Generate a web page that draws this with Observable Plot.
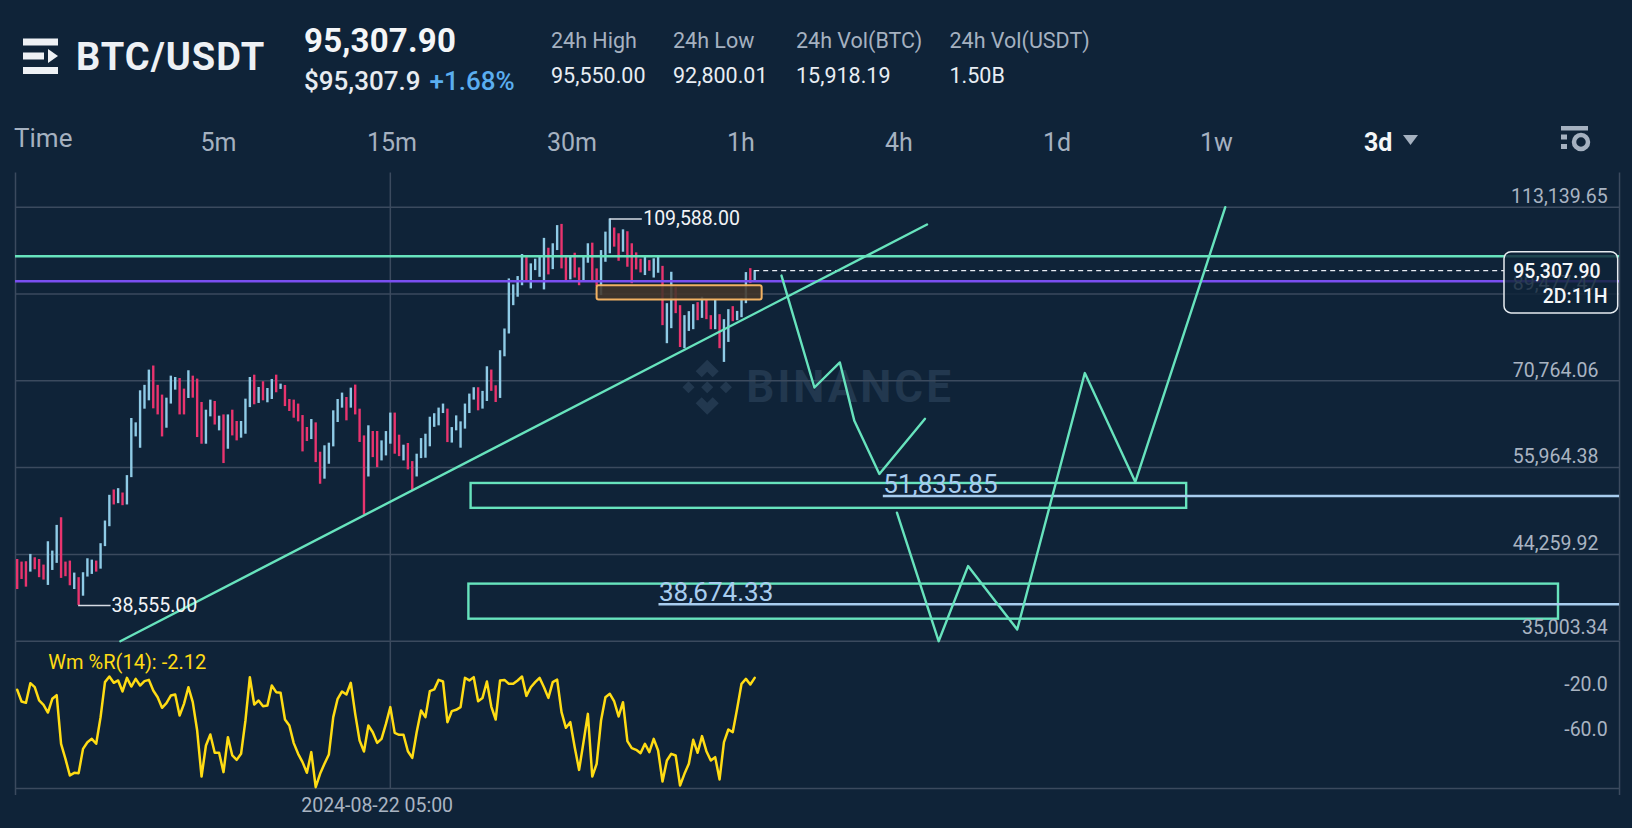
<!DOCTYPE html>
<html>
<head>
<meta charset="utf-8">
<script src="https://cdn.jsdelivr.net/npm/d3@7"></script>
<script src="https://cdn.jsdelivr.net/npm/@observablehq/plot@0.6"></script>
<style>
html,body{margin:0;padding:0;background:#0f2338;}
#page{position:relative;width:1632px;height:828px;overflow:hidden;background:#0f2338;font-family:Roboto,sans-serif;}
#page svg{position:absolute;left:0;background:transparent;overflow:visible;font-family:Roboto,sans-serif;}
.h{position:absolute;white-space:nowrap;line-height:1;transform:translateY(-50%);}
</style>
</head>
<body>
<div id="page"></div>
<script>
// ---------- header text ----------
const pairName = "BTC/USDT";
const lastPrice = "95,307.90";
const lastPriceUsd = "$95,307.9";
const changePct = "+1.68%";
const statLabels = ["24h High", "24h Low", "24h Vol(BTC)", "24h Vol(USDT)"];
const statValues = ["95,550.00", "92,800.01", "15,918.19", "1.50B"];
const tabLabels = ["Time", "5m", "15m", "30m", "1h", "4h", "1d", "1w", "3d"];

// ---------- price series (3-day bars) ----------
const barHigh = [43655,43350,43390,44260,43860,43655,43000,45800,44660,47870,48870,43350,43467,42080,41560,42120,43740,43580,43467,45560,48440,51925,52680,52870,52250,54765,63905,63160,68878,69900,72840,73650,69900,68080,67520,71660,71400,71200,69190,72711,71660,71090,66740,65360,67160,66920,64310,64530,64530,65360,63390,63390,67340,71400,71850,69500,70580,69310,71020,71850,70130,69880,67280,67160,66450,64420,62370,63730,63160,58340,59360,59780,65247,67280,68450,67640,69370,69950,65540,60970,62660,61700,61700,60157,61690,64850,64850,61090,59460,59730,56880,58030,60530,61250,64130,64740,65730,66450,65550,62360,64360,63330,66450,68270,69450,69450,68770,73500,72850,69820,76757,81400,93200,91700,93800,99560,98950,97070,98300,99240,104000,101260,102490,107650,108000,99240,99240,99900,96020,98810,102490,102660,95760,100625,105770,109588,106950,105300,106420,105880,102490,100000,98300,98810,97937,98420,99240,96420,87170,94890,91040,86700,84390,85310,86940,87410,88700,88120,84390,88120,84620,83480,85770,86470,85370,88360,94810,95830,95307.9];
const barLow = [40250,41360,40510,42190,42460,41560,41290,40700,42380,43200,41480,41670,40660,40250,38555,39530,41630,41930,42190,42530,45200,47700,50590,50770,50490,50590,54465,60807,58966,65540,67038,65600,64530,60800,62250,66450,69000,64530,64530,67460,67520,60700,59616,59616,64190,62790,61808,56580,58810,60970,60157,60600,61250,65820,66320,66560,67038,66680,67280,68510,69130,66000,65130,63960,63330,58390,60050,60370,56730,53500,54240,56472,59190,63220,65720,63504,65720,64530,59900,49230,54560,57495,55960,56985,57760,59620,58028,57650,56985,55620,52625,54565,57340,57400,59200,62400,62650,64770,59880,59800,61808,58980,62100,64770,67170,65247,65550,66910,68770,66730,67470,75510,80310,86700,88700,91500,92775,90720,95321,93600,90470,94220,95570,100625,95760,92350,92950,93420,91500,92775,97240,92350,91280,89100,97490,99750,101560,97750,100170,96190,92000,95500,94730,94050,95140,93420,94640,82140,78230,81470,84850,77430,77180,80870,81250,83252,83770,83480,81250,81250,77180,74370,78500,83030,83252,83930,87170,92030,92350];
const barUp = [0,0,0,1,0,0,0,1,1,1,0,0,0,1,0,1,1,1,0,1,1,1,0,1,0,1,1,1,1,1,1,0,0,0,1,1,1,0,0,1,0,0,0,1,1,0,1,0,1,0,0,1,1,1,0,1,0,1,1,0,1,0,0,0,0,0,0,1,0,0,1,1,1,1,1,0,1,0,0,0,1,0,0,1,1,1,0,0,1,0,0,1,1,1,1,1,1,1,0,1,1,1,1,1,1,0,1,1,0,0,1,1,1,1,1,1,0,1,1,1,1,0,1,1,0,0,1,0,0,1,1,0,0,1,1,1,0,0,1,0,0,0,0,1,0,1,1,0,1,1,0,0,1,1,1,0,1,0,0,1,0,1,1,0,1,1,1,0,1];

// Williams %R(14)
const percentR = [-12.7,-23.1,-24.3,-6.8,-10.4,-22.2,-26.1,-32.9,-20.7,-17.5,-60.7,-74.1,-88.9,-86.5,-86.8,-65.2,-59.3,-56.3,-60.7,-37,-5.9,-0.9,-6.5,-4.4,-14.2,-2.1,-9.8,-3,-8.9,-5,-3.9,-13.3,-19.3,-28.7,-24.6,-17.8,-16.9,-35.6,-25.2,-10.4,-23.7,-48.9,-89.8,-62.2,-52.4,-68.7,-68.7,-85.9,-54.8,-71.1,-75,-69.6,-40,-1.5,-25.8,-22.2,-27.3,-26.7,-8.9,-14.8,-15.4,-39.1,-44.4,-60.1,-69.6,-77,-86.5,-68.1,-99.3,-87.4,-78.5,-70.2,-37,-20.7,-14.2,-16.9,-6.5,-34.1,-57.8,-67.6,-44.4,-50.4,-59.9,-56.3,-43,-28.1,-51,-52.7,-52.7,-67.3,-73.2,-50.4,-31.1,-37,-13.9,-12.4,-3.9,-5.3,-41.5,-31.7,-30.5,-28.1,-2.1,-4.4,-1.5,-22.8,-19.9,-5.3,-27.6,-39.1,-4.4,-3.9,-7.4,-7.4,-4.4,-0.9,-18.1,-10.4,-5.9,-2.1,-10.4,-19.9,-5.9,-3.6,-32.6,-46.5,-41.5,-63.7,-83.9,-59.3,-34.1,-89.8,-78.5,-40,-19.3,-16.3,-23.1,-36.4,-23.7,-58.4,-64.6,-66.1,-69,-60.7,-68.1,-56.3,-66.7,-94.2,-75.6,-69.6,-71.1,-97.8,-87.4,-78.5,-57.2,-68.7,-53.9,-67.3,-75.6,-72.6,-92.4,-59.3,-48,-50.4,-29.6,-7.4,-3,-8,-2.12];

// ---------- axis ticks ----------
const priceTicks = [113139.65, 89477.47, 70764.06, 55964.38, 44259.92, 35003.34];
const priceTickLabels = ["113,139.65", "89,477.47", "70,764.06", "55,964.38", "44,259.92", "35,003.34"];
const wprTicks = [-20, -60];
const wprTickLabels = ["-20.0", "-60.0"];
const timeLabel = "2024-08-22 05:00";
const wprTitle = "Wm %R(14): -2.12";
const lastPriceLabel = "95,307.90";
const countdownLabel = "2D:11H";
const highLabel = "109,588.00";
const lowLabel = "38,555.00";
const watermarkLabel = "BINANCE";
const highBar = 135, lowBar = 14, lastBar = 168, gridBar = 85;
const highValue = 109588, lowValue = 38555, lastValue = 95307.9;

// ---------- drawn annotations (bar number, price) ----------
const trendBars = [23.5, 207.25];
const trendPrices = [35003, 107960];
const pathABars = [174.1, 181.6, 187.4, 190.7, 196.4, 206.8];
const pathAPrices = [94043, 69494, 74363, 63504, 55014, 63847];
const pathBBars = [200.4, 209.9, 216.6, 227.8, 243.2, 254.7, 275.2];
const pathBPrices = [49540, 35003, 42885, 36130, 72260, 53833, 113139];
const resistancePrice = 99075;
const purplePrice = 92600;
const zoneOrange = {bar1: 132.1, bar2: 169.7, low: 88040, high: 91520};
const zoneGreen = [
  {bar1: 103.4, bar2: 266.4, low: 50130, high: 53616},
  {bar1: 102.9, bar2: 351.1, low: 37150, high: 40843}
];
const levelValues = [51835.85, 38674.33];
const levelLabels = ["51,835.85", "38,674.33"];
const levelStartBars = [197.3, 146.2];
const firstChartBar = -0.38, lastChartBar = 365;

// ---------- layout ----------
const W = 1632;
const xOpts = {domain: [-16.67 / 4.39, (W - 16.67) / 4.39], range: [0, W]};
const page = document.getElementById("page");
const grid = "#3b4a5e", tickColor = "#a9b4c2", bg = "#0f2338";
const green = "#67e3bd", blue = "#8fcbe6", pink = "#e9346e", level = "#a8cdef", wmColor = "#22384f";
const idx = d3.range(barHigh.length);
const lineW = 2.4, labelSize = 19.5;

function watermark(index, {x, y}) {
  const g = d3.create("svg:g").attr("fill", wmColor);
  const cx = x(157.3), cy = y(69445);
  const k = 27.5;
  const p = "M0,-1 L0.42,-0.58 L0.2,-0.36 L0,-0.56 L-0.2,-0.36 L-0.42,-0.58Z " +
            "M0,1 L0.42,0.58 L0.2,0.36 L0,0.56 L-0.2,0.36 L-0.42,0.58Z " +
            "M0,-0.22 L0.22,0 L0,0.22 L-0.22,0Z " +
            "M-0.68,-0.22 L-0.46,0 L-0.68,0.22 L-0.9,0Z " +
            "M0.68,-0.22 L0.9,0 L0.68,0.22 L0.46,0Z";
  g.append("path").attr("d", p).attr("transform", `translate(${cx},${cy}) scale(${k})`);
  return g.node();
}

const mainTop = 166;
const main = Plot.plot({
  width: W, height: 475, margin: 0,
  x: {...xOpts, axis: null},
  y: {type: "log", domain: [35003.34, 113139.65], range: [474.7, 40.7], axis: null},
  marks: [
    watermark,
    Plot.text([watermarkLabel], {x: [166.1], y: [69445], text: d => d, textAnchor: "start", fontSize: 44, fontWeight: 700, fill: wmColor, fontFamily: "Roboto"}),
    Plot.ruleY(priceTicks, {x1: firstChartBar, x2: lastChartBar, stroke: grid, strokeWidth: 1.5}),
    Plot.ruleX([firstChartBar, gridBar, lastChartBar], {y1: 35003.34, y2: 124070, stroke: grid, strokeWidth: 1.5}),
    // candles
    Plot.ruleX(idx, {x: i => i, y1: i => barLow[i], y2: i => barHigh[i], stroke: i => barUp[i] ? blue : pink, strokeWidth: 2.4}),
    // high / low leaders
    Plot.ruleY([highValue], {x1: highBar, x2: highBar + 7.4, stroke: "#d5dbe3", strokeWidth: 1.5}),
    Plot.ruleY([lowValue], {x1: lowBar, x2: lowBar + 7.4, stroke: "#d5dbe3", strokeWidth: 1.5}),
    // levels
    Plot.ruleY([resistancePrice], {x1: firstChartBar, x2: lastChartBar, stroke: green, strokeWidth: lineW}),
    Plot.ruleY([purplePrice], {x1: firstChartBar, x2: lastChartBar, stroke: "#7a4ff0", strokeWidth: lineW}),
    Plot.ruleY([lastValue], {x1: lastBar, x2: 338.8, stroke: "#e8ecf2", strokeWidth: 1.3, strokeDasharray: "5,4"}),
    // orange zone
    Plot.rect([zoneOrange], {x1: "bar1", x2: "bar2", y1: "low", y2: "high", inset: 0, fill: "#43352a", fillOpacity: 0.88, stroke: "#f1b163", strokeWidth: 2, rx: 2}),
    // green zones
    Plot.rect(zoneGreen, {x1: "bar1", x2: "bar2", y1: "low", y2: "high", fill: "none", stroke: green, strokeWidth: lineW}),
    // blue horizontal levels
    Plot.ruleY(levelValues, {x1: (d, i) => levelStartBars[i], x2: lastChartBar, stroke: level, strokeWidth: lineW}),
    Plot.text(levelLabels, {x: (d, i) => levelStartBars[i], y: (d, i) => levelValues[i], text: d => d, textAnchor: "start", lineAnchor: "bottom", dy: -3, fontSize: 26, fill: level, fontFamily: "Roboto"}),
    // trend line + scenario paths
    Plot.line(trendBars.map((b, i) => [b, trendPrices[i]]), {x: d => d[0], y: d => d[1], stroke: green, strokeWidth: lineW}),
    Plot.line(pathABars.map((b, i) => [b, pathAPrices[i]]), {x: d => d[0], y: d => d[1], stroke: green, strokeWidth: lineW}),
    Plot.line(pathBBars.map((b, i) => [b, pathBPrices[i]]), {x: d => d[0], y: d => d[1], stroke: green, strokeWidth: lineW}),
    // value labels
    Plot.text([highLabel], {x: [highBar + 7.6], y: [highValue], text: d => d, textAnchor: "start", fontSize: labelSize, fill: "#f2f4f7", fontFamily: "Roboto"}),
    Plot.text([lowLabel], {x: [lowBar + 7.5], y: [lowValue], text: d => d, textAnchor: "start", fontSize: labelSize, fill: "#f2f4f7", fontFamily: "Roboto"}),
    // price axis labels
    Plot.text(priceTickLabels.slice(0, -1), {
      x: (d, i) => i === 0 ? 362.3 : 360.2,
      y: (d, i) => priceTicks[i], text: d => d, textAnchor: "end",
      dy: -10.5, fontSize: labelSize, fill: tickColor, fontFamily: "Roboto"
    }),
    Plot.text(priceTickLabels.slice(-1), {
      x: [362.3], y: priceTicks.slice(-1), text: d => d, textAnchor: "end",
      dy: -13.5, fontSize: labelSize, fill: tickColor, fontFamily: "Roboto"
    }),
    // last price box
    Plot.rect([{a: 338.8, b: 364.7, lo: 84910, hi: 100165}], {x1: "a", x2: "b", y1: "lo", y2: "hi", fill: "#0f2338", fillOpacity: 0.82, stroke: "#e6ebf0", strokeWidth: 1.5, rx: 7}),
    Plot.text([lastPriceLabel], {x: [360.7], y: [lastValue], text: d => d, textAnchor: "end", dy: 1.5, fontSize: labelSize, fontWeight: 500, fill: "#f4f6f8", fontFamily: "Roboto"}),
    Plot.text([countdownLabel], {x: [362.3], y: [lastValue], text: d => d, textAnchor: "end", dy: 26, fontSize: labelSize, fontWeight: 500, fill: "#f4f6f8", fontFamily: "Roboto"})
  ]
});
main.style.top = mainTop + "px";
d3.select(main).selectAll("text").filter(function () { return this.textContent === watermarkLabel; }).attr("letter-spacing", "3px");
page.appendChild(main);

const wpr = Plot.plot({
  width: W, height: 187, margin: 0,
  x: {...xOpts, axis: null},
  y: {domain: [-100, 0], range: [146.5, 34], axis: null},
  marks: [
    Plot.ruleY([-100.5], {x1: firstChartBar, x2: lastChartBar, stroke: grid, strokeWidth: 1.5}),
    Plot.ruleX([gridBar], {y1: -100.5, y2: 30.3, stroke: grid, strokeWidth: 1.5}),
    Plot.ruleX([firstChartBar, lastChartBar], {y1: -106.7, y2: 30.3, stroke: grid, strokeWidth: 1.5}),
    Plot.line(idx, {x: i => i, y: i => percentR[i], stroke: "#ffdc14", strokeWidth: 2.5, strokeLinejoin: "round"}),
    Plot.text([wprTitle], {x: [7.1], y: [11.5], text: d => d, textAnchor: "start", fontSize: 20, fill: "#ffdc14", fontFamily: "Roboto"}),
    Plot.text(wprTickLabels, {x: 362.3, y: (d, i) => wprTicks[i], text: d => d, textAnchor: "end", dy: -13, fontSize: labelSize, fill: tickColor, fontFamily: "Roboto"}),
    Plot.text([timeLabel], {x: [82.0], y: [-116], text: d => d, textAnchor: "middle", fontSize: labelSize, fill: tickColor, fontFamily: "Roboto"})
  ]
});
wpr.style.top = "641px";
page.appendChild(wpr);

// ---------- header ----------
function put(text, x, y, size, color, weight, extra) {
  const d = document.createElement("div");
  d.className = "h";
  d.textContent = text;
  d.style.cssText = `left:${x}px;top:${y}px;font-size:${size}px;color:${color};font-weight:${weight || 400};${extra || ""}`;
  page.appendChild(d);
}
put(pairName, 76, 57, 38, "#eef1f5", 700, "letter-spacing:1px;");
put(lastPrice, 304, 40, 33, "#f4f6f8", 700, "letter-spacing:.2px;");
put(lastPriceUsd, 304, 80.5, 26, "#e8ecf1", 500);
put(changePct, 429.5, 80.5, 26, "#5aaef0", 500);
const statX = [551, 673, 796, 949.5];
statLabels.forEach((t, i) => put(t, statX[i], 40.5, 21.5, "#a5b1c0"));
statValues.forEach((t, i) => put(t, statX[i], 75.5, 21.5, "#e8edf3"));
const tabX = [14, 200.5, 367, 547, 727, 885, 1043, 1200, 1364];
tabLabels.forEach((t, i) => put(t, tabX[i], i === 0 ? 138 : 141.5, i === 0 ? 26 : 25,
  t === "3d" ? "#f4f6f8" : "#a5b1c0", t === "3d" ? 700 : 400));

// header icons
const icons = document.createElement("div");
icons.innerHTML = `<svg width="1632" height="166" style="top:0;left:0">
  <g fill="#eef1f5">
    <rect x="23" y="38.5" width="35" height="7"/>
    <rect x="23" y="52.5" width="21" height="7"/><path d="M48,49 L58,56 L48,63Z"/>
    <rect x="23" y="67" width="35" height="7"/>
  </g>
  <path d="M1403,135 H1418 L1410.5,145Z" fill="#a5b1c0"/>
  <g fill="#a5b1c0">
    <rect x="1561" y="126" width="27" height="4.5"/>
    <rect x="1561" y="134.5" width="6" height="5"/><rect x="1561" y="144" width="6" height="5"/>
    <circle cx="1581" cy="142" r="7" fill="none" stroke="#a5b1c0" stroke-width="4.5"/>
  </g></svg>`;
page.appendChild(icons);
</script>
</body>
</html>
